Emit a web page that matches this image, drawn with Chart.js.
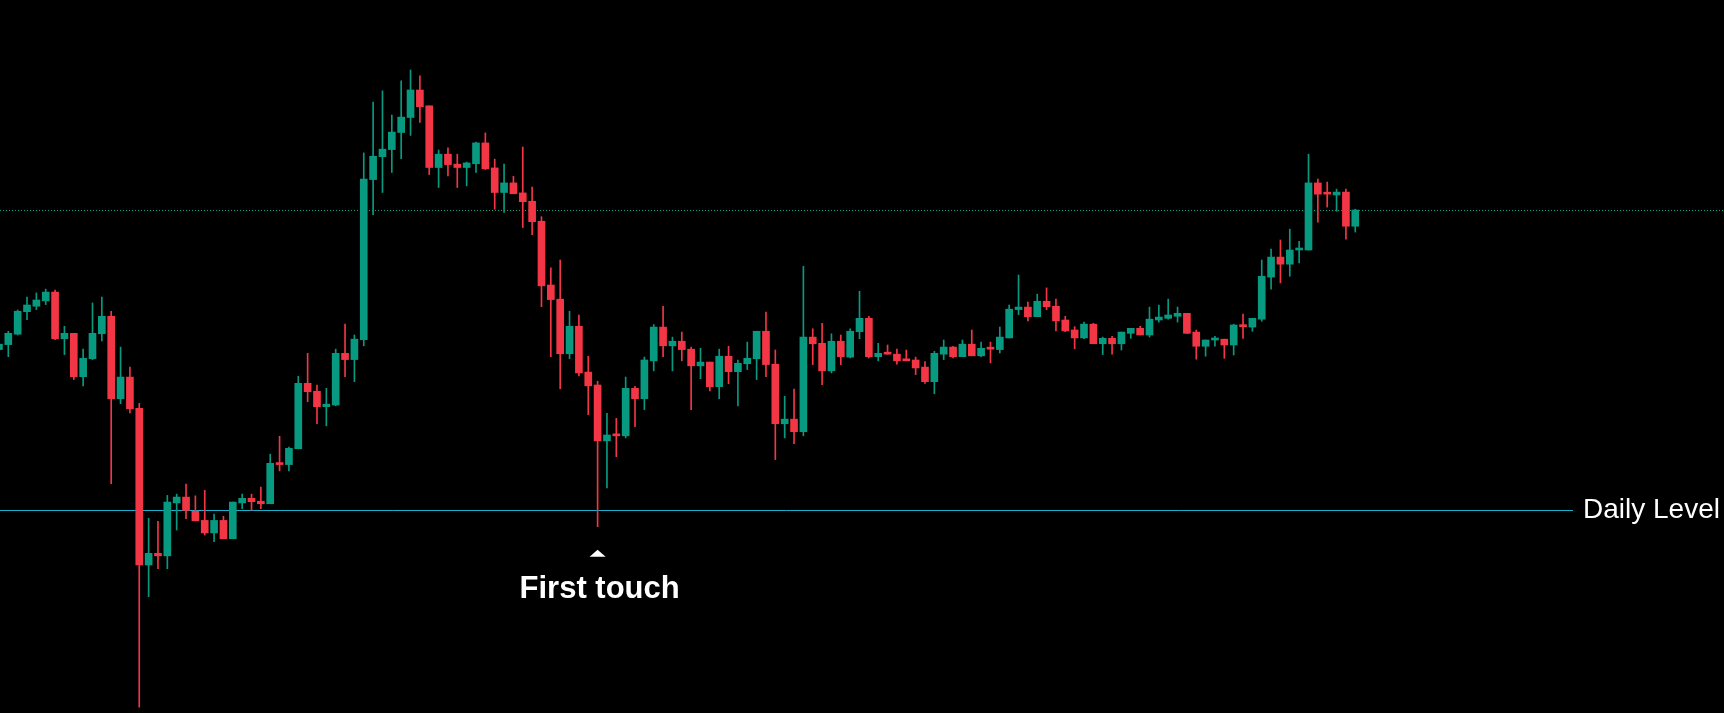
<!DOCTYPE html>
<html>
<head>
<meta charset="utf-8">
<script src="https://cdn.jsdelivr.net/npm/chart.js@4.4.1/dist/chart.umd.min.js"></script>
<style>
    html, body { margin: 0; padding: 0; background: #000; }
    #wrap { width: 1724px; height: 713px; position: relative; }
</style>
</head>
<body>
<div id="wrap"><canvas id="chart"></canvas></div>
<script>
// OHLC series, one entry per candle
const open = [
    130.5, 131.7, 134.2, 139.6, 140.9, 142.2, 144.3, 133.1, 134.4, 124.0,
    128.3, 134.3, 138.5, 118.7, 123.9, 116.4, 78.8, 81.6, 81.0, 93.7,
    95.1, 91.7, 89.5, 86.5, 89.5, 85.1, 93.7, 94.8, 94.1, 93.5,
    103.2, 102.9, 106.7, 122.4, 120.5, 116.8, 117.2, 129.6, 128.1, 132.9,
    171.3, 176.8, 178.5, 182.6, 186.2, 192.8, 189.0, 174.2, 177.4, 175.0,
    174.2, 175.1, 180.1, 174.1, 168.2, 170.5, 168.1, 166.1, 161.3, 146.0,
    142.6, 129.5, 136.1, 125.1, 122.0, 108.6, 110.0, 109.8, 121.2, 118.7,
    127.8, 135.9, 131.4, 132.5, 130.6, 126.6, 127.5, 121.6, 128.9, 125.2,
    127.1, 128.3, 134.9, 127.0, 112.7, 113.8, 110.8, 133.5, 132.0, 125.4,
    132.5, 128.7, 134.8, 138.0, 128.8, 129.6, 129.4, 128.1, 128.0, 126.3,
    122.8, 129.4, 131.1, 128.8, 131.8, 129.0, 130.8, 130.5, 133.3, 140.1,
    140.7, 138.4, 142.1, 140.9, 137.6, 135.2, 133.3, 136.6, 131.9, 133.2,
    131.9, 134.4, 135.6, 134.0, 137.6, 138.0, 138.5, 139.2, 134.7, 131.3,
    132.8, 133.0, 131.6, 136.4, 135.9, 137.8, 147.9, 152.7, 151.0, 154.4,
    154.4, 170.5, 168.1, 167.6, 168.3, 160.1
];
const high = [
    132.5, 134.9, 140.0, 143.1, 144.1, 145.0, 144.8, 136.1, 134.4, 130.6,
    141.7, 143.1, 139.7, 131.1, 126.3, 117.6, 90.0, 89.3, 95.5, 95.8,
    98.2, 95.4, 96.7, 91.0, 90.5, 93.9, 95.8, 95.8, 97.5, 105.4,
    109.7, 107.1, 124.1, 129.6, 122.0, 121.2, 130.6, 136.6, 134.0, 177.7,
    189.9, 192.6, 186.8, 195.0, 197.6, 196.2, 189.0, 178.4, 178.9, 177.4,
    175.5, 180.3, 182.5, 176.2, 175.0, 172.1, 179.1, 169.5, 162.4, 150.1,
    152.0, 139.7, 138.8, 128.9, 122.9, 115.2, 114.0, 123.9, 121.7, 128.7,
    136.5, 140.9, 133.5, 134.7, 131.1, 130.8, 127.5, 130.6, 131.3, 128.0,
    132.3, 134.9, 139.5, 130.4, 119.3, 121.0, 150.5, 135.5, 136.8, 134.3,
    134.0, 135.5, 144.5, 138.5, 132.0, 131.6, 130.6, 130.4, 128.7, 127.6,
    130.1, 132.8, 131.3, 132.8, 135.2, 132.3, 132.3, 135.9, 141.2, 148.4,
    141.9, 143.8, 145.3, 142.6, 138.5, 136.0, 137.1, 136.8, 133.5, 133.7,
    134.7, 135.6, 136.1, 140.7, 141.2, 142.6, 140.7, 139.2, 135.2, 132.8,
    133.7, 133.0, 136.6, 139.0, 138.0, 152.0, 154.6, 156.8, 159.4, 156.5,
    177.4, 171.4, 170.7, 169.0, 169.0, 164.2
];
const low = [
    130.0, 128.8, 134.0, 137.7, 140.1, 141.3, 132.9, 129.3, 123.3, 121.8,
    128.1, 132.6, 98.3, 117.5, 115.3, 44.7, 71.2, 77.9, 77.9, 87.2,
    89.9, 89.4, 86.0, 84.4, 85.1, 85.1, 92.3, 91.9, 92.3, 93.5,
    101.4, 101.4, 106.7, 118.0, 112.7, 112.2, 117.0, 124.0, 122.8, 131.4,
    162.9, 168.2, 173.0, 176.3, 181.9, 185.0, 172.5, 169.4, 172.2, 169.4,
    169.8, 173.0, 173.7, 164.2, 163.4, 167.9, 159.8, 158.1, 140.8, 128.8,
    121.1, 128.3, 124.2, 114.9, 88.0, 97.3, 104.8, 109.3, 112.0, 116.1,
    125.4, 128.8, 125.4, 127.8, 116.1, 123.5, 120.6, 118.7, 122.3, 117.0,
    125.7, 123.3, 124.0, 104.1, 109.3, 107.9, 109.8, 126.9, 122.1, 124.9,
    126.9, 128.5, 133.1, 128.5, 127.8, 129.4, 127.0, 127.8, 124.5, 122.4,
    119.9, 128.1, 128.5, 128.8, 129.0, 128.8, 127.3, 129.7, 133.3, 138.9,
    137.4, 138.4, 140.1, 135.0, 134.8, 130.7, 133.1, 131.9, 129.3, 129.4,
    130.4, 133.2, 134.0, 133.5, 137.1, 137.8, 137.1, 134.4, 128.2, 128.9,
    131.3, 128.4, 129.2, 133.2, 134.9, 137.3, 145.0, 146.5, 148.1, 151.3,
    154.4, 161.1, 164.7, 163.7, 157.0, 158.7
];
const close = [
    131.8, 134.4, 139.7, 141.2, 142.4, 144.3, 133.1, 134.4, 124.0, 128.4,
    134.4, 138.5, 118.7, 123.9, 116.3, 78.8, 81.6, 81.0, 93.9, 95.1,
    91.9, 89.4, 86.5, 89.5, 85.1, 93.9, 94.8, 94.0, 93.5, 103.2,
    102.9, 106.8, 122.4, 120.4, 116.8, 117.4, 129.6, 128.1, 133.0, 171.4,
    176.9, 178.6, 182.7, 186.3, 192.8, 188.8, 174.2, 177.4, 174.9, 174.2,
    175.3, 180.1, 173.9, 168.2, 170.5, 167.9, 166.0, 161.2, 145.8, 142.5,
    129.5, 136.1, 124.9, 121.8, 108.6, 110.0, 109.8, 121.2, 118.7, 128.0,
    135.9, 131.4, 132.5, 130.5, 126.6, 127.5, 121.6, 128.9, 125.2, 127.2,
    128.4, 134.9, 126.9, 112.7, 113.8, 110.8, 133.5, 131.9, 125.4, 132.5,
    128.8, 134.9, 138.0, 128.8, 129.6, 129.4, 127.8, 127.8, 126.1, 122.8,
    129.6, 131.1, 128.8, 131.8, 129.0, 130.8, 130.6, 133.5, 140.2, 140.7,
    138.4, 142.1, 140.8, 137.4, 135.0, 133.3, 136.6, 131.9, 133.2, 131.9,
    134.7, 135.6, 134.0, 137.8, 138.3, 138.8, 139.2, 134.4, 131.3, 132.8,
    133.0, 131.6, 136.4, 136.0, 138.0, 148.1, 152.7, 151.0, 154.4, 154.6,
    170.5, 167.8, 167.8, 168.3, 160.1, 164.0
];

// horizontal levels and marker
const dailyLevel = 91.9;
const dottedLevel = 163.9;
const dailyLabel = "Daily Level";
const touchIndex = 64;
const touchLabel = "First touch";

const UP = '#089981';
const DOWN = '#f23645';

const colorAt = (i) => close[i] >= open[i] ? UP : DOWN;

const bodies = open.map((o, i) => ({ x: i, y: [o, close[i]] }));
const wicks = open.map((o, i) => ({ x: i, y: [low[i], high[i]] }));

const levelsPlugin = {
    id: 'levels',
    beforeDatasetsDraw(chart) {
        const ctx = chart.ctx;
        const y = chart.scales.y;
        const w = chart.width;

        // dotted reference line
        const yd = Math.round(y.getPixelForValue(dottedLevel)) + 0.5;
        ctx.save();
        ctx.strokeStyle = '#0aa58c';
        ctx.lineWidth = 1;
        ctx.setLineDash([1, 2]);
        ctx.beginPath();
        ctx.moveTo(0, yd);
        ctx.lineTo(w, yd);
        ctx.stroke();
        ctx.restore();

        // daily level line
        const yl = Math.round(y.getPixelForValue(dailyLevel)) + 0.5;
        ctx.save();
        ctx.strokeStyle = '#17b0cc';
        ctx.lineWidth = 1;
        ctx.beginPath();
        ctx.moveTo(0, yl);
        ctx.lineTo(1573, yl);
        ctx.stroke();
        ctx.restore();
    },
    afterDatasetsDraw(chart) {
        const ctx = chart.ctx;
        const x = chart.scales.x;
        const y = chart.scales.y;

        const yl = y.getPixelForValue(dailyLevel);
        ctx.save();
        ctx.fillStyle = '#ffffff';
        ctx.font = '28px "Liberation Sans", Arial, sans-serif';
        ctx.textAlign = 'left';
        ctx.textBaseline = 'middle';
        ctx.fillText(dailyLabel, 1583, yl);

        // first touch marker under the candle's low
        const xt = x.getPixelForValue(touchIndex);
        const yt = y.getPixelForValue(low[touchIndex]) + 23;
        ctx.beginPath();
        ctx.moveTo(xt - 8, yt + 7);
        ctx.lineTo(xt, yt);
        ctx.lineTo(xt + 8, yt + 7);
        ctx.closePath();
        ctx.fill();

        ctx.font = 'bold 31px "Liberation Sans", Arial, sans-serif';
        ctx.textAlign = 'center';
        ctx.textBaseline = 'alphabetic';
        ctx.fillText(touchLabel, xt + 2, yt + 48);
        ctx.restore();
    }
};

new Chart(document.getElementById('chart'), {
    type: 'bar',
    data: {
        datasets: [
            {
                label: 'body',
                data: bodies,
                backgroundColor: (c) => colorAt(c.dataIndex),
                barThickness: 7,
                minBarLength: 2,
                grouped: false,
                borderWidth: 0
            },
            {
                label: 'wick',
                data: wicks,
                backgroundColor: (c) => colorAt(c.dataIndex),
                barThickness: 1,
                minBarLength: 1,
                grouped: false,
                borderWidth: 0
            }
        ]
    },
    options: {
        responsive: true,
        maintainAspectRatio: false,
        animation: false,
        layout: { padding: 0 },
        plugins: {
            legend: { display: false },
            tooltip: { enabled: false }
        },
        scales: {
            x: { type: 'linear', display: false, offset: false, min: 0.112, max: 184.42 },
            y: { display: false, min: 43.28, max: 214.4 }
        }
    },
    plugins: [levelsPlugin]
});
</script>
</body>
</html>
